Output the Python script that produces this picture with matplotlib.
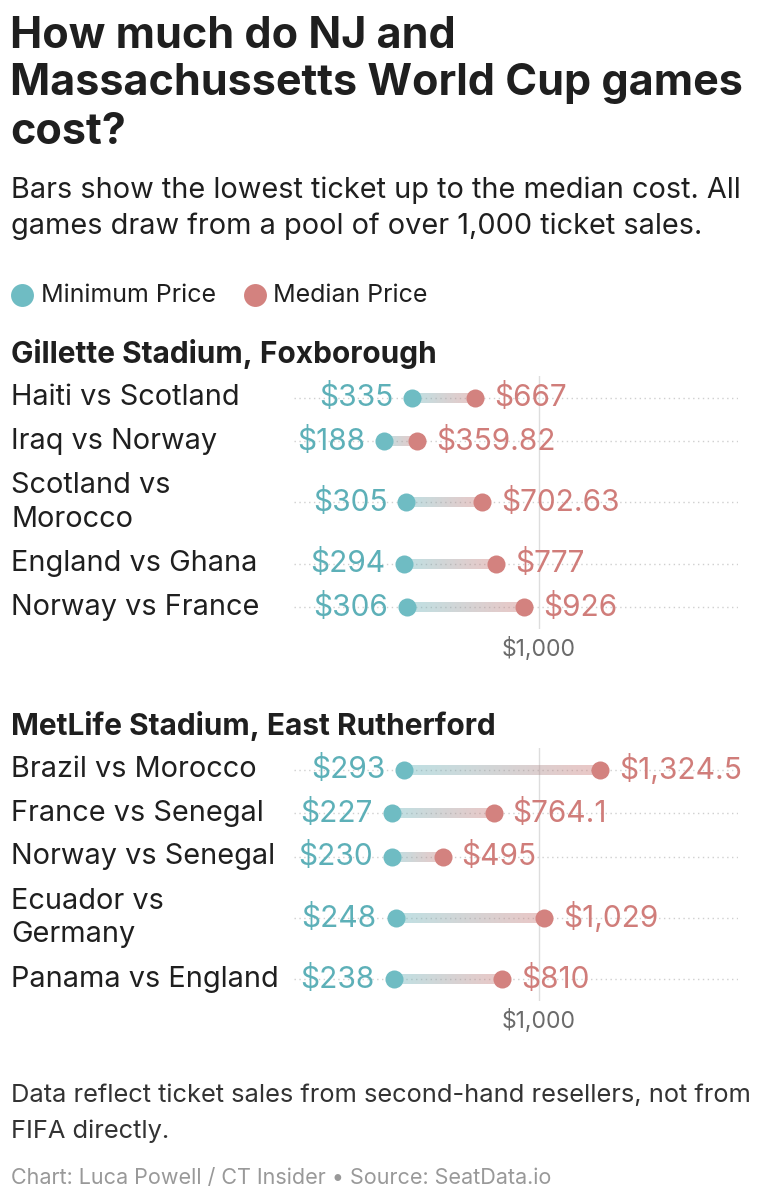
import matplotlib
matplotlib.use("Agg")
import matplotlib.pyplot as plt
import numpy as np
from matplotlib.colors import to_rgb

# ---------------- data ----------------
gillette_games = ["Haiti vs Scotland", "Iraq vs Norway", "Scotland vs\nMorocco",
                  "England vs Ghana", "Norway vs France"]
gillette_min = [335, 188, 305, 294, 306]
gillette_median = [667, 359.82, 702.63, 777, 926]

metlife_games = ["Brazil vs Morocco", "France vs Senegal", "Norway vs Senegal",
                 "Ecuador vs\nGermany", "Panama vs England"]
metlife_min = [293, 227, 230, 248, 238]
metlife_median = [1324.5, 764.1, 495, 1029, 810]

ref_tick = [1000]
ref_tick_labels = ["$1,000"]

# ---------------- style ----------------
W, H = 768, 1204
TEAL = "#6fbcc3"
PINK = "#d3827f"
TEAL_TXT = "#5db0b8"
PINK_TXT = "#d07d7a"
DARK = "#1f1f1f"
FONT = ["Inter", "Roboto", "DejaVu Sans"]
plt.rcParams['font.family'] = FONT

fig = plt.figure(figsize=(W / 100, H / 100), dpi=100)
fig.patch.set_facecolor("white")


def fy(py):
    return 1 - py / H


def fx(px):
    return px / W


# ---------------- header texts ----------------
for line, py in zip(["How much do NJ and", "Massachussetts World Cup games", "cost?"],
                    [36, 84, 132]):
    fig.text(fx(10), fy(py), line, fontsize=31, fontweight="bold",
             color=DARK, va="center", ha="left")
fig.text(fx(11), fy(190), "Bars show the lowest ticket up to the median cost. All",
         fontsize=20.8, color=DARK, va="center", ha="left")
fig.text(fx(11), fy(226), "games draw from a pool of over 1,000 ticket sales.",
         fontsize=20.8, color=DARK, va="center", ha="left")

# legend
leg_ax = fig.add_axes([0, fy(310), 1, (310 - 280) / H])
leg_ax.set_xlim(0, W)
leg_ax.set_ylim(310, 280)
leg_ax.axis("off")
leg_ax.plot([22], [295], "o", ms=16.5, color=TEAL, mec="none")
leg_ax.text(41, 295, "Minimum Price", fontsize=18, color=DARK, va="center", ha="left")
leg_ax.plot([255], [295], "o", ms=16.5, color=PINK, mec="none")
leg_ax.text(273, 295, "Median Price", fontsize=18, color=DARK, va="center", ha="left")

# ---------------- panels ----------------
ROW1 = 43.5   # height of a one-line row (px)
ROW2 = 79.0   # height of a two-line row (px)
AX_LEFT, AX_RIGHT = 294, 738
XLIM = (-287, 2050)

c0, c1 = np.array(to_rgb(TEAL)), np.array(to_rgb(PINK))
grad = np.zeros((1, 256, 4))
tt = np.linspace(0, 1, 256)
grad[0, :, :3] = (1 - tt)[:, None] * c0 + tt[:, None] * c1
grad[0, :, 3] = 0.45


def fmt(v):
    if float(v).is_integer():
        return f"${int(v):,}"
    return f"${v:,}"


def panel(top_px, header, games, mins, meds):
    heights = [ROW2 if "\n" in g else ROW1 for g in games]
    bottom_px = top_px + sum(heights)
    centers = []
    acc = top_px
    for h in heights:
        centers.append(acc + h / 2)
        acc += h

    ax = fig.add_axes([fx(AX_LEFT), fy(bottom_px), fx(AX_RIGHT) - fx(AX_LEFT),
                       (bottom_px - top_px) / H])
    ax.set_xlim(*XLIM)
    ax.set_ylim(bottom_px, top_px)
    ax.axis("off")

    # header
    fig.text(fx(11), fy(top_px - 22), header, fontsize=21.5, fontweight="bold",
             color=DARK, va="center", ha="left")

    # reference line
    for v in ref_tick:
        ax.axvline(v, color="#dddddd", lw=1, zorder=1)
    for v, lab in zip(ref_tick, ref_tick_labels):
        ax.annotate(lab, xy=(v, bottom_px), xycoords="data", xytext=(0, -20),
                    textcoords="offset pixels", ha="center", va="center",
                    fontsize=16.5, color="#6b6b6b", annotation_clip=False)

    for g, y, lo, hi in zip(games, centers, mins, meds):
        ax.axhline(y, color="#cfcfcf", lw=1, ls=(0, (1, 2.5)), zorder=0)
        ax.imshow(grad, extent=[lo, hi, y + 5, y - 5], aspect="auto",
                  interpolation="bilinear", zorder=2)
        ax.plot([lo], [y], "o", ms=13, color=TEAL, mec="none", zorder=3)
        ax.plot([hi], [y], "o", ms=13, color=PINK, mec="none", zorder=3)
        ax.annotate(fmt(lo), xy=(lo, y), xytext=(-19, 0), textcoords="offset pixels",
                    ha="right", va="center", fontsize=21.5, color=TEAL_TXT, zorder=4)
        ax.annotate(fmt(hi), xy=(hi, y), xytext=(19, 0), textcoords="offset pixels",
                    ha="left", va="center", fontsize=21.5, color=PINK_TXT, zorder=4)
        fig.text(fx(11), fy(y), g, fontsize=20.8, color=DARK, va="center", ha="left",
                 linespacing=1.3)
    ax.set_xlim(*XLIM)
    ax.set_ylim(bottom_px, top_px)


panel(376, "Gillette Stadium, Foxborough", gillette_games, gillette_min, gillette_median)
panel(748, "MetLife Stadium, East Rutherford", metlife_games, metlife_min, metlife_median)

# ---------------- footer ----------------
fig.text(fx(11), fy(1095), "Data reflect ticket sales from second-hand resellers, not from",
         fontsize=18.3, color="#333333", va="center", ha="left")
fig.text(fx(11), fy(1131), "FIFA directly.", fontsize=18.3, color="#333333",
         va="center", ha="left")
fig.text(fx(11), fy(1178), "Chart: Luca Powell / CT Insider \u2022 Source: SeatData.io",
         fontsize=15.5, color="#999999", va="center", ha="left")

fig.savefig("out.png", dpi=100, facecolor="white")
